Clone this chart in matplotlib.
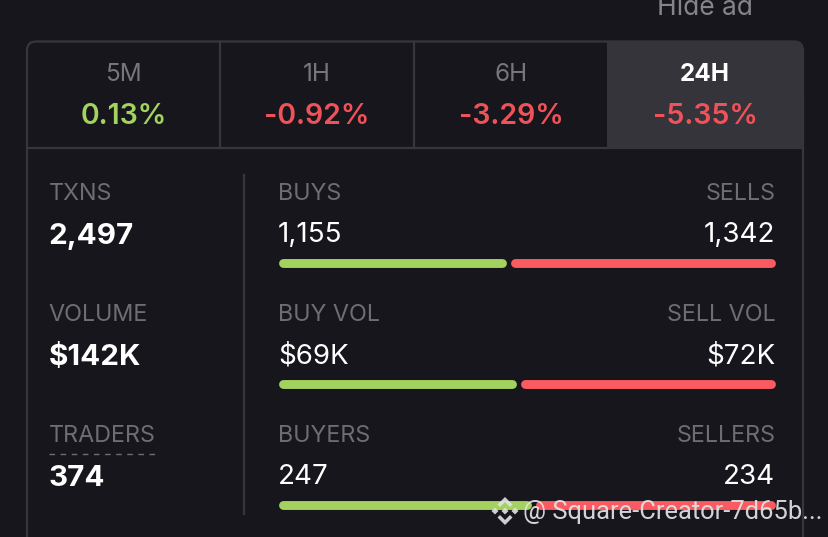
import matplotlib
matplotlib.use("Agg")
import matplotlib.pyplot as plt
from matplotlib.patches import FancyBboxPatch, Rectangle, Polygon

# ---- data ----
tab_labels = ["5M", "1H", "6H", "24H"]
tab_changes = ["0.13%", "-0.92%", "-3.29%", "-5.35%"]
tab_change_values = [0.13, -0.92, -3.29, -5.35]
stat_labels = ["TXNS", "VOLUME", "TRADERS"]
stat_values = ["2,497", "$142K", "374"]
buy_labels = ["BUYS", "BUY VOL", "BUYERS"]
sell_labels = ["SELLS", "SELL VOL", "SELLERS"]
buy_texts = ["1,155", "$69K", "247"]
sell_texts = ["1,342", "$72K", "234"]
buy_values = [1155, 68.6, 247]
sell_values = [1342, 73.4, 234]

# ---- style ----
BG = "#17161c"
BORDER = "#37363c"
ACTIVE = "#35343a"
GREEN = "#a4d25f"
RED_T = "#f0525a"
RED = "#f95b60"
GREY = "#6e6d73"
TABGREY = "#77767b"
WHITE = "#ffffff"
FONT = ["Inter", "DejaVu Sans"]

fig = plt.figure(figsize=(8.29, 5.37), dpi=100, facecolor=BG)
ax = fig.add_axes([0, 0, 1, 1])
ax.set_xlim(0, 829)
ax.set_ylim(537, 0)
ax.axis("off")

def T(x, y, s, size, color, weight="normal", ha="left", **kw):
    return ax.text(x, y, s, fontsize=size, color=color, fontweight=weight, ha=ha,
                   va="baseline", family=FONT, **kw)

# panel
L, R, TOP, BOT, TAB = 27, 803, 41.5, 560, 147.5
ax.add_patch(FancyBboxPatch((L, TOP), R - L, BOT - TOP, boxstyle="round,pad=0,rounding_size=9",
                            fc=BG, ec=BORDER, lw=1.6, zorder=1))
# active tab
ax.add_patch(FancyBboxPatch((607, TOP - 0.5), R - 607 + 0.5, 60, boxstyle="round,pad=0,rounding_size=9",
                            fc=ACTIVE, ec="none", zorder=2))
ax.add_patch(Rectangle((607, TOP + 15), R - 607 + 0.5, TAB - TOP - 14, fc=ACTIVE, ec="none", zorder=2))
ax.add_patch(Rectangle((607, TOP - 0.5), 20, 20, fc=ACTIVE, ec="none", zorder=2))
ax.plot([L, R], [TAB, TAB], color=BORDER, lw=1.6, zorder=1.5)
for x in (220.5, 414.5):
    ax.plot([x, x], [TOP, TAB], color=BORDER, lw=1.6, zorder=1.5)
ax.plot([244, 244], [175, 514], color=BORDER, lw=1.6, zorder=1.5)

T(705, 15, "Hide ad", 19, "#85848a", ha="center")

# tabs
centers = [123.5, 317, 511, 705]
for i, c in enumerate(centers):
    active = i == 3
    T(c, 81, tab_labels[i], 17.5, WHITE if active else TABGREY,
      "bold" if active else "normal", ha="center", zorder=3)
    col = GREEN if tab_change_values[i] >= 0 else RED_T
    T(c, 123.5, tab_changes[i], 20.5, col, "semibold", ha="center", zorder=3)

# left column
rows_label = [200, 321, 442]
rows_value = [244, 365.5, 486.5]
for i in range(3):
    T(48.5, rows_label[i], stat_labels[i], 16.8, GREY, zorder=3)
    T(48.5, rows_value[i], stat_values[i], 21.3, WHITE, "bold", zorder=3)
ax.plot([49, 158], [453.5, 453.5], color=GREY, lw=1, dashes=(4, 4), zorder=3)

# right columns with bars
BX0, BX1, GAP = 278.7, 775.3, 3.6
BAR_LW = 6.4
CAP = BAR_LW * 100 / 72 / 2
bar_y = [263, 384, 505]
for i in range(3):
    T(278, rows_label[i], buy_labels[i], 16.8, GREY, zorder=3)
    T(775.5, rows_label[i], sell_labels[i], 16.8, GREY, ha="right", zorder=3)
    T(278, rows_value[i] - 2, buy_texts[i], 20, WHITE, zorder=3)
    T(775.5, rows_value[i] - 2, sell_texts[i], 20, WHITE, ha="right", zorder=3)
    split = BX0 + (BX1 - BX0) * buy_values[i] / (buy_values[i] + sell_values[i])
    ax.plot([BX0 + CAP, split - GAP / 2 - CAP], [bar_y[i]] * 2, color=GREEN, lw=BAR_LW,
            solid_capstyle="round", zorder=3)
    ax.plot([split + GAP / 2 + CAP, BX1 - CAP], [bar_y[i]] * 2, color=RED, lw=BAR_LW,
            solid_capstyle="round", zorder=3)

# watermark (logo + handle)
WM = "#e4e4e6"
cx, cy = 505, 511
def poly(points):
    ax.add_patch(Polygon([(cx + a, cy + b) for a, b in points], closed=True, fc=WM, ec="none",
                         alpha=0.9, zorder=5))
poly([(0, -14), (7.5, -6.5), (5, -4), (0, -9), (-5, -4), (-7.5, -6.5)])
poly([(0, 14), (7.5, 6.5), (5, 4), (0, 9), (-5, 4), (-7.5, 6.5)])
poly([(-13.5, 0), (-10, -3.5), (-6.5, 0), (-10, 3.5)])
poly([(13.5, 0), (10, -3.5), (6.5, 0), (10, 3.5)])
poly([(0, -3.5), (3.5, 0), (0, 3.5), (-3.5, 0)])
ax.text(523, 519.5, "@ Square-Creator-7d65b...", fontsize=18.4, color=WM, alpha=0.92, ha="left",
        va="baseline", family=["Roboto", "DejaVu Sans"], zorder=5)

fig.savefig("out.png", dpi=100, facecolor=BG)
